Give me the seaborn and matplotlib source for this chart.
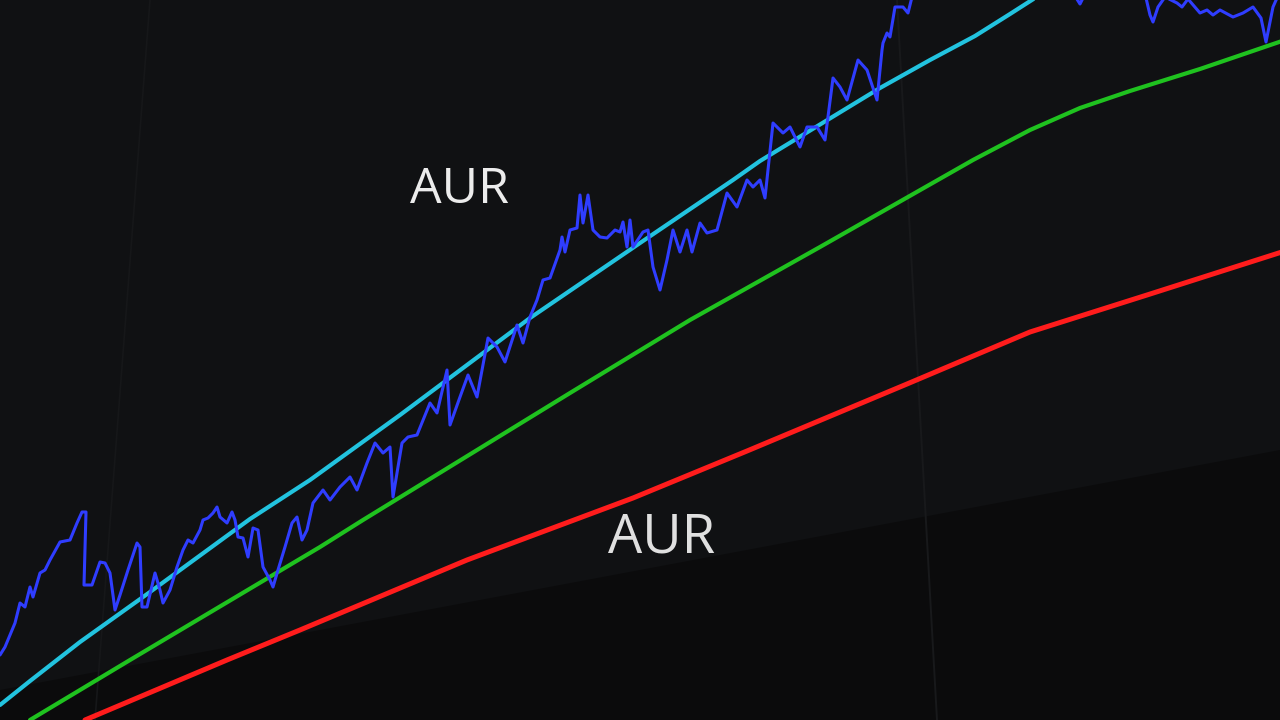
import matplotlib
matplotlib.use("Agg")
import matplotlib.pyplot as plt
import seaborn as sns
import numpy as np
import pandas as pd

# ---- data (x = time position, y = price level measured downward from top) ----
price_x = [0, 5, 15, 20, 25, 30, 33, 40, 45, 50, 60, 70, 77, 82, 86, 84, 92, 100, 105, 110,
           115, 120, 128, 137, 140, 142, 147, 155, 160, 163, 170, 177, 183, 188, 193, 200,
           203, 208, 213, 217, 220, 227, 232, 235, 238, 243, 248, 253, 258, 263, 270, 273,
           278, 285, 292, 297, 302, 307, 313, 323, 330, 340, 350, 357, 367, 375, 383, 390,
           393, 402, 408, 417, 430, 437, 447, 450, 460, 468, 477, 488, 497, 505, 517, 523,
           530, 537, 543, 550, 560, 562, 565, 570, 577, 580, 583, 588, 593, 600, 607, 615,
           620, 623, 627, 630, 633, 643, 648, 653, 660, 667, 673, 680, 687, 692, 700, 707,
           717, 727, 737, 747, 753, 760, 765, 773, 783, 790, 800, 807, 817, 825, 833, 840,
           847, 858, 867, 877, 882, 883, 887, 890, 895, 903, 908, 912, 930, 960, 1000, 1035,
           1060, 1075, 1080, 1086, 1110, 1135, 1146, 1150, 1153, 1158, 1165, 1177, 1182,
           1188, 1200, 1207, 1213, 1220, 1233, 1243, 1253, 1261, 1266, 1270, 1273, 1277, 1284]
price_y = [655, 647, 623, 603, 607, 587, 597, 573, 570, 560, 542, 540, 523, 512, 512, 585, 585,
           562, 563, 573, 610, 595, 570, 543, 547, 607, 607, 573, 590, 603, 590, 567, 550, 540,
           543, 530, 520, 518, 513, 507, 517, 523, 512, 520, 537, 538, 557, 528, 530, 567, 580,
           587, 570, 547, 523, 517, 540, 530, 503, 490, 500, 487, 477, 490, 463, 443, 453, 447,
           497, 443, 437, 435, 403, 413, 370, 425, 397, 375, 397, 338, 347, 362, 325, 343, 317,
           300, 280, 278, 250, 237, 252, 230, 228, 195, 223, 195, 230, 237, 238, 230, 232, 222,
           247, 220, 247, 232, 230, 267, 290, 260, 230, 252, 230, 252, 223, 233, 230, 193, 207,
           180, 187, 180, 198, 123, 133, 127, 147, 127, 127, 140, 78, 87, 100, 60, 70, 100, 50,
           43, 33, 37, 7, 7, 13, -3, -25, -45, -55, -40, -20, -4, 4, -8, -30, -20, -2, 15, 22,
           7, -3, 3, 7, -1, 13, 10, 15, 10, 17, 13, 7, 18, 42, 22, 7, -2, -10]

sma20_x = [0, 30, 80, 150, 250, 310, 400, 530, 640, 733, 760, 880, 930, 975, 1010, 1035]
sma20_y = [705, 681, 642, 592, 519, 480, 415, 318, 243, 180, 161, 88, 60, 36, 14, -2]

sma50_x = [30, 130, 320, 363, 570, 690, 820, 973, 1030, 1080, 1130, 1200, 1285]
sma50_y = [720, 660, 547, 520, 393, 320, 247, 160, 130, 108, 91, 69, 40]

sma200_x = [85, 227, 300, 467, 633, 747, 907, 1030, 1147, 1285]
sma200_y = [720, 660, 630, 560, 498, 451, 384, 332, 295, 251]

labels = ["AUR", "AUR"]
label_x = [460, 662]
label_y = [190, 538]

# ---- figure ----
sns.set_theme(style="dark")
plt.rcParams['font.family'] = ['Open Sans', 'DejaVu Sans']

fig = plt.figure(figsize=(12.8, 7.2), dpi=100)
fig.patch.set_facecolor("#101113")
ax = fig.add_axes([0, 0, 1, 1])
ax.set_facecolor("#101113")
ax.set_xlim(0, 1280)
ax.set_ylim(720, 0)
ax.axis("off")

# subtle background: darker lower band and faint vertical grid lines
ax.fill_between([0, 1280], [690, 450], [720, 720], color="#0b0b0c", zorder=0, linewidth=0)
ax.plot([150, 95], [0, 720], color="#161719", lw=1.2, zorder=0)
ax.plot([897, 937], [0, 720], color="#18191b", lw=1.4, zorder=0)

series = [
    (sma200_x, sma200_y, "#ff1c1c", 3.6),
    (sma50_x, sma50_y, "#1fc21f", 3.0),
    (sma20_x, sma20_y, "#22c3df", 3.0),
    (price_x, price_y, "#2f3dff", 2.2),
]
for xs, ys, col, lw in series:
    df = pd.DataFrame({"x": xs, "y": ys})
    sns.lineplot(data=df, x="x", y="y", ax=ax, color=col, linewidth=lw,
                 sort=False, estimator=None, solid_capstyle="round")

ax.text(label_x[0], label_y[0], labels[0], color="#ececec", fontsize=36,
        ha="center", va="center", zorder=5)
ax.text(label_x[1], label_y[1], labels[1], color="#e0e0e0", fontsize=39,
        ha="center", va="center", zorder=5)

ax.set_xlim(0, 1280)
ax.set_ylim(720, 0)
fig.savefig("out.png", dpi=100, facecolor=fig.get_facecolor())
